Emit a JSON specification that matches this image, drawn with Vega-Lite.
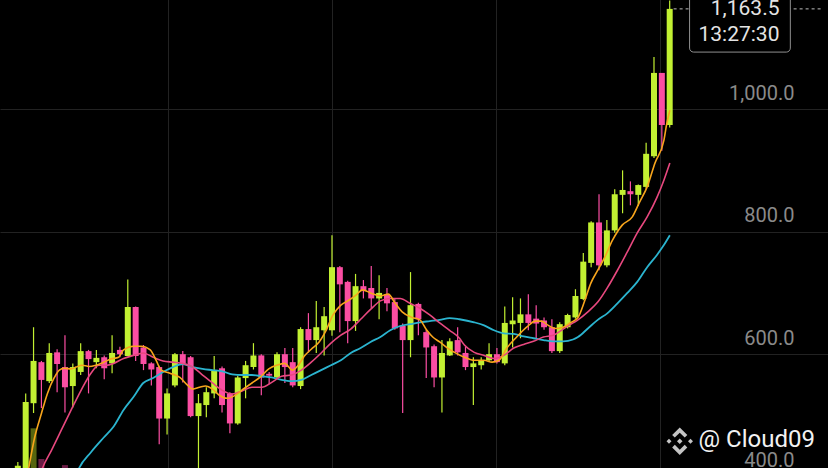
{
 "$schema": "https://vega.github.io/schema/vega-lite/v6.json",
 "width": 828, "height": 468, "autosize": "none", "padding": 0,
 "background": "#000000",
 "config": {"view": {"stroke": null}, "font": "Roboto"},
 "datasets": {
  "candles": [
   {"i":0,"o":400,"c":418,"h":424,"l":390},{"i":1,"o":405,"c":522,"h":536,"l":395},{"i":2,"o":520,"c":589,"h":644,"l":504},{"i":3,"o":587,"c":558,"h":589,"l":512},
   {"i":4,"o":556,"c":602,"h":618,"l":553},{"i":5,"o":603,"c":584,"h":608,"l":538},{"i":6,"o":579,"c":546,"h":631,"l":505},{"i":7,"o":548,"c":579,"h":585,"l":513},
   {"i":8,"o":571,"c":605,"h":618,"l":566},{"i":9,"o":605,"c":592,"h":607,"l":536},{"i":10,"o":587,"c":594,"h":607,"l":577},{"i":11,"o":595,"c":577,"h":598,"l":559},
   {"i":12,"o":585,"c":602,"h":631,"l":569},{"i":13,"o":607,"c":600,"h":612,"l":595},{"i":14,"o":597,"c":677,"h":722,"l":597},{"i":15,"o":677,"c":597,"h":678,"l":589},
   {"i":16,"o":611,"c":584,"h":615,"l":574},{"i":17,"o":585,"c":575,"h":587,"l":549},{"i":18,"o":579,"c":495,"h":581,"l":453},{"i":19,"o":495,"c":536,"h":544,"l":469},
   {"i":20,"o":549,"c":600,"h":602,"l":546},{"i":21,"o":600,"c":585,"h":605,"l":554},{"i":22,"o":595,"c":499,"h":597,"l":497},{"i":23,"o":499,"c":520,"h":535,"l":400},
   {"i":24,"o":517,"c":538,"h":546,"l":497},{"i":25,"o":536,"c":574,"h":597,"l":528},{"i":26,"o":577,"c":517,"h":580,"l":505},{"i":27,"o":536,"c":487,"h":538,"l":471},
   {"i":28,"o":487,"c":562,"h":565,"l":485},{"i":29,"o":561,"c":582,"h":589,"l":528},{"i":30,"o":579,"c":598,"h":618,"l":575},{"i":31,"o":598,"c":562,"h":600,"l":533},
   {"i":32,"o":568,"c":565,"h":571,"l":551},{"i":33,"o":562,"c":600,"h":603,"l":560},{"i":34,"o":600,"c":579,"h":610,"l":553},{"i":35,"o":587,"c":549,"h":610,"l":546},
   {"i":36,"o":548,"c":641,"h":644,"l":543},{"i":37,"o":641,"c":623,"h":667,"l":603},{"i":38,"o":623,"c":644,"h":687,"l":602},{"i":39,"o":639,"c":662,"h":677,"l":598},
   {"i":40,"o":639,"c":742,"h":794,"l":630},{"i":41,"o":742,"c":714,"h":744,"l":636},{"i":42,"o":718,"c":654,"h":720,"l":618},{"i":43,"o":654,"c":711,"h":731,"l":638},
   {"i":44,"o":711,"c":703,"h":721,"l":691},{"i":45,"o":708,"c":691,"h":744,"l":675},{"i":46,"o":691,"c":700,"h":729,"l":657},{"i":47,"o":698,"c":683,"h":708,"l":670},
   {"i":48,"o":685,"c":642,"h":690,"l":640},{"i":49,"o":646,"c":623,"h":650,"l":504},{"i":50,"o":623,"c":680,"h":734,"l":595},{"i":51,"o":682,"c":657,"h":684,"l":631},
   {"i":52,"o":636,"c":611,"h":640,"l":561},{"i":53,"o":613,"c":562,"h":616,"l":546},{"i":54,"o":562,"c":602,"h":623,"l":505},{"i":55,"o":598,"c":621,"h":626,"l":597},
   {"i":56,"o":623,"c":603,"h":644,"l":598},{"i":57,"o":602,"c":579,"h":613,"l":574},{"i":58,"o":579,"c":585,"h":595,"l":517},{"i":59,"o":582,"c":590,"h":595,"l":575},
   {"i":60,"o":590,"c":600,"h":618,"l":588},{"i":61,"o":600,"c":587,"h":610,"l":585},{"i":62,"o":585,"c":651,"h":678,"l":582},{"i":63,"o":649,"c":655,"h":693,"l":611},
   {"i":64,"o":651,"c":665,"h":691,"l":626},{"i":65,"o":665,"c":651,"h":698,"l":639},{"i":66,"o":658,"c":650,"h":680,"l":625},{"i":67,"o":655,"c":644,"h":660,"l":640},
   {"i":68,"o":644,"c":605,"h":657,"l":602},{"i":69,"o":605,"c":649,"h":652,"l":602},{"i":70,"o":644,"c":664,"h":666,"l":642},{"i":71,"o":660,"c":695,"h":706,"l":658},
   {"i":72,"o":690,"c":751,"h":765,"l":688},{"i":73,"o":749,"c":815,"h":817,"l":742},{"i":74,"o":815,"c":745,"h":861,"l":737},{"i":75,"o":745,"c":802,"h":819,"l":742},
   {"i":76,"o":802,"c":861,"h":869,"l":798},{"i":77,"o":860,"c":868,"h":900,"l":830},{"i":78,"o":866,"c":861,"h":882,"l":843},{"i":79,"o":860,"c":876,"h":877,"l":842},
   {"i":80,"o":873,"c":927,"h":945,"l":870},{"i":81,"o":923,"c":1059,"h":1085,"l":920},{"i":82,"o":1059,"c":974,"h":1059,"l":932},{"i":83,"o":974,"c":1163.5,"h":1177,"l":970}
  ],
  "vol": [
   {"i":2,"t":479,"up":true},{"i":3,"t":429,"up":false},{"i":6,"t":419,"up":false}
  ],
  "ma7": [
   {"i":0.88,"v":378},{"i":1.38,"v":414},{"i":2.14,"v":464},{"i":3.02,"v":504},{"i":3.77,"v":536},{"i":4.65,"v":562},{"i":5.28,"v":574},{"i":5.91,"v":577},
   {"i":6.79,"v":576},{"i":7.42,"v":579},{"i":8.18,"v":582},{"i":9.06,"v":580},{"i":9.94,"v":582},{"i":10.94,"v":587},{"i":11.82,"v":592},{"i":12.83,"v":595},
   {"i":13.46,"v":607},{"i":14.72,"v":613},{"i":15.72,"v":613},{"i":16.86,"v":607},{"i":17.61,"v":590},{"i":18.24,"v":574},{"i":19.37,"v":569},{"i":20.63,"v":562},
   {"i":21.64,"v":549},{"i":22.26,"v":543},{"i":23.14,"v":546},{"i":23.9,"v":548},{"i":24.78,"v":543},{"i":25.66,"v":533},{"i":26.67,"v":528},{"i":27.67,"v":533},
   {"i":28.81,"v":544},{"i":29.81,"v":553},{"i":30.82,"v":562},{"i":31.95,"v":576},{"i":32.96,"v":582},{"i":33.96,"v":585},{"i":34.97,"v":574},{"i":35.72,"v":582},
   {"i":36.48,"v":597},{"i":37.36,"v":608},{"i":38.36,"v":620},{"i":39.25,"v":639},{"i":40.13,"v":664},{"i":41.13,"v":680},{"i":42.14,"v":688},{"i":43.02,"v":696},
   {"i":43.9,"v":705},{"i":44.91,"v":700},{"i":46.16,"v":695},{"i":47.17,"v":698},{"i":48.05,"v":683},{"i":48.93,"v":669},{"i":50.19,"v":660},{"i":51.19,"v":656},
   {"i":52.08,"v":639},{"i":52.83,"v":628},{"i":53.71,"v":620},{"i":54.72,"v":610},{"i":55.6,"v":603},{"i":56.86,"v":595},{"i":58.11,"v":590},{"i":59.37,"v":590},
   {"i":60.38,"v":587},{"i":61.26,"v":590},{"i":62.26,"v":610},{"i":63.52,"v":628},{"i":64.78,"v":644},{"i":65.91,"v":654},{"i":66.67,"v":654},{"i":67.55,"v":647},
   {"i":68.43,"v":642},{"i":69.43,"v":644},{"i":70.31,"v":651},{"i":71.32,"v":660},{"i":72.2,"v":688},{"i":72.96,"v":716},{"i":73.84,"v":737},{"i":74.72,"v":758},
   {"i":75.72,"v":786},{"i":76.98,"v":811},{"i":78.24,"v":824},{"i":79.12,"v":847},{"i":80.13,"v":873},{"i":81.13,"v":912},{"i":82.26,"v":949},{"i":82.64,"v":977},{"i":83.02,"v":998}
  ],
  "ma25": [
   {"i":2.64,"v":394},{"i":3.14,"v":414},{"i":4.28,"v":443},{"i":5.53,"v":476},{"i":6.79,"v":509},{"i":8.05,"v":541},{"i":9.31,"v":569},{"i":10.31,"v":582},
   {"i":11.32,"v":582},{"i":12.2,"v":585},{"i":13.46,"v":593},{"i":14.72,"v":598},{"i":15.97,"v":602},{"i":17.23,"v":595},{"i":18.49,"v":589},{"i":19.75,"v":587},
   {"i":21.01,"v":585},{"i":22.26,"v":579},{"i":23.52,"v":566},{"i":24.78,"v":553},{"i":26.04,"v":541},{"i":27.3,"v":535},{"i":28.55,"v":540},{"i":29.81,"v":546},
   {"i":31.07,"v":546},{"i":32.33,"v":554},{"i":33.58,"v":564},{"i":34.84,"v":566},{"i":36.1,"v":574},{"i":37.36,"v":587},{"i":38.62,"v":602},{"i":39.87,"v":618},
   {"i":41.13,"v":631},{"i":42.39,"v":641},{"i":43.65,"v":657},{"i":44.91,"v":673},{"i":46.16,"v":687},{"i":47.42,"v":691},{"i":48.68,"v":691},{"i":49.94,"v":683},
   {"i":51.19,"v":675},{"i":52.45,"v":664},{"i":53.71,"v":651},{"i":54.97,"v":639},{"i":56.23,"v":626},{"i":56.86,"v":615},{"i":58.11,"v":603},{"i":59.37,"v":598},
   {"i":60.63,"v":593},{"i":61.89,"v":598},{"i":63.14,"v":610},{"i":64.4,"v":616},{"i":65.66,"v":621},{"i":66.92,"v":628},{"i":68.18,"v":631},{"i":69.43,"v":641},
   {"i":70.69,"v":651},{"i":71.32,"v":656},{"i":72.58,"v":669},{"i":73.84,"v":685},{"i":75.09,"v":709},{"i":76.35,"v":737},{"i":77.61,"v":767},{"i":78.87,"v":798},
   {"i":80.13,"v":824},{"i":81.38,"v":856},{"i":82.26,"v":884},{"i":83.02,"v":912}
  ],
  "ma99": [
   {"i":7.17,"v":394},{"i":7.8,"v":414},{"i":9.31,"v":440},{"i":10.94,"v":464},{"i":12.2,"v":482},{"i":13.46,"v":509},{"i":14.72,"v":530},{"i":15.97,"v":553},
   {"i":17.23,"v":561},{"i":18.49,"v":571},{"i":19.75,"v":579},{"i":21.01,"v":584},{"i":22.26,"v":579},{"i":23.52,"v":576},{"i":24.78,"v":574},{"i":26.04,"v":572},
   {"i":27.3,"v":567},{"i":28.55,"v":566},{"i":29.81,"v":566},{"i":31.07,"v":564},{"i":32.33,"v":562},{"i":33.58,"v":558},{"i":34.84,"v":556},{"i":36.1,"v":558},
   {"i":37.36,"v":566},{"i":38.62,"v":574},{"i":39.87,"v":582},{"i":41.13,"v":590},{"i":42.39,"v":602},{"i":43.65,"v":610},{"i":44.91,"v":620},{"i":46.16,"v":628},
   {"i":47.42,"v":639},{"i":48.68,"v":646},{"i":49.94,"v":649},{"i":51.19,"v":652},{"i":52.45,"v":654},{"i":53.71,"v":656},{"i":54.97,"v":659},{"i":56.23,"v":657},
   {"i":58.11,"v":652},{"i":59.37,"v":647},{"i":60.63,"v":639},{"i":61.89,"v":634},{"i":63.14,"v":633},{"i":64.4,"v":629},{"i":65.66,"v":626},{"i":66.92,"v":623},
   {"i":68.18,"v":621},{"i":69.43,"v":621},{"i":70.69,"v":624},{"i":71.32,"v":628},{"i":72.58,"v":642},{"i":73.84,"v":656},{"i":75.09,"v":667},{"i":76.35,"v":683},
   {"i":77.61,"v":700},{"i":78.87,"v":718},{"i":80.13,"v":742},{"i":81.38,"v":762},{"i":82.26,"v":778},{"i":83.02,"v":794}
  ],
  "last": [{"p":1163.5,"t":"13:27:30"}],
  "mark": [{"w":"@ Cloud09"}]
 },
 "layer": [
  {
   "data": {"name": "vol"},
   "mark": {"type": "bar", "size": 6},
   "encoding": {
    "x": {"field": "i", "type": "quantitative", "title": null,
     "scale": {"domain": [-1.635, 102.52], "nice": false, "zero": false},
     "axis": {"values": [19.12, 40, 60.88, 81.76], "labels": false, "ticks": false, "domain": false, "grid": true, "gridColor": "#222222", "gridWidth": 1, "title": null}},
    "y": {"field": "t", "type": "quantitative", "title": null,
     "scale": {"domain": [380, 1178], "range": [489, 0], "nice": false, "zero": false},
     "axis": {"orient": "right", "values": [400, 600, 800, 1000], "format": ",.1f", "grid": true, "gridColor": "#222222", "gridWidth": 1, "ticks": false, "tickSize": 0, "domain": false, "labelAlign": "right", "labelBaseline": "middle", "labelPadding": -34, "labelOffset": -16, "labelColor": "#8a8a8a", "labelFontSize": 20, "labelFont": "Roboto", "labelBound": false, "labelFlush": false, "labelOverlap": false, "title": null}},
    "y2": {"datum": 380},
    "color": {"condition": {"test": "datum.up", "value": "#56650f"}, "value": "#6a1c45"}
   }
  },
  {
   "data": {"name": "candles"},
   "mark": {"type": "rule", "strokeWidth": 1.2},
   "encoding": {
    "x": {"field": "i", "type": "quantitative", "title": null},
    "y": {"field": "l", "type": "quantitative", "title": null},
    "y2": {"field": "h"},
    "color": {"condition": {"test": "datum.c >= datum.o", "value": "#c2f032"}, "value": "#fb4ea3"}
   }
  },
  {
   "data": {"name": "candles"},
   "mark": {"type": "bar", "size": 6},
   "encoding": {
    "x": {"field": "i", "type": "quantitative", "title": null},
    "y": {"field": "o", "type": "quantitative", "title": null},
    "y2": {"field": "c"},
    "color": {"condition": {"test": "datum.c >= datum.o", "value": "#c2f032"}, "value": "#fb4ea3"}
   }
  },
  {
   "data": {"name": "ma99"},
   "mark": {"type": "line", "color": "#2bb4cf", "strokeWidth": 1.8, "interpolate": "monotone"},
   "encoding": {"x": {"field": "i", "type": "quantitative", "title": null}, "y": {"field": "v", "type": "quantitative", "title": null}}
  },
  {
   "data": {"name": "ma25"},
   "mark": {"type": "line", "color": "#e8487f", "strokeWidth": 1.6, "interpolate": "monotone"},
   "encoding": {"x": {"field": "i", "type": "quantitative", "title": null}, "y": {"field": "v", "type": "quantitative", "title": null}}
  },
  {
   "data": {"name": "ma7"},
   "mark": {"type": "line", "color": "#f8a51c", "strokeWidth": 1.6, "interpolate": "monotone"},
   "encoding": {"x": {"field": "i", "type": "quantitative", "title": null}, "y": {"field": "v", "type": "quantitative", "title": null}}
  },
  {
   "data": {"name": "last"},
   "mark": {"type": "rule", "color": "#bdbdbd", "strokeWidth": 1, "strokeDash": [3, 3]},
   "encoding": {"x": {"datum": 83.5}, "x2": {"datum": 102.52}, "y": {"field": "p", "type": "quantitative", "title": null}}
  },
  {
   "data": {"name": "last"},
   "mark": {"type": "rect", "fill": "#000000", "stroke": "#8f8f8f", "strokeWidth": 1, "cornerRadius": 4},
   "encoding": {"x": {"datum": 85.53}, "x2": {"datum": 98.36}, "y": {"datum": 1093}, "y2": {"datum": 1210}}
  },
  {
   "data": {"name": "last"},
   "mark": {"type": "text", "align": "right", "baseline": "middle", "fontSize": 21, "font": "Roboto", "color": "#e4e4e4"},
   "encoding": {"x": {"datum": 96.98}, "y": {"field": "p", "type": "quantitative", "title": null}, "text": {"field": "p", "type": "quantitative", "format": ",.1f"}}
  },
  {
   "data": {"name": "last"},
   "mark": {"type": "text", "align": "right", "baseline": "middle", "fontSize": 21, "font": "Roboto", "color": "#e4e4e4", "dy": 26},
   "encoding": {"x": {"datum": 96.98}, "y": {"field": "p", "type": "quantitative", "title": null}, "text": {"field": "t"}}
  },
  {
   "data": {"name": "mark"},
   "mark": {"type": "point", "filled": true, "color": "#c4c4c4", "opacity": 1, "size": 760,
     "shape": "M0,-1L0.55,-0.45L0.36,-0.26L0,-0.62L-0.36,-0.26L-0.55,-0.45Z M0,1L0.55,0.45L0.36,0.26L0,0.62L-0.36,0.26L-0.55,0.45Z M0,-0.2L0.2,0L0,0.2L-0.2,0Z M-0.78,-0.18L-0.6,0L-0.78,0.18L-0.96,0Z M0.78,-0.18L0.96,0L0.78,0.18L0.6,0Z"},
   "encoding": {"x": {"datum": 84.28}, "y": {"datum": 458}}
  },
  {
   "data": {"name": "mark"},
   "mark": {"type": "text", "align": "left", "baseline": "middle", "fontSize": 24, "font": "Roboto", "color": "#f2f2f2"},
   "encoding": {"x": {"datum": 86.67}, "y": {"datum": 460}, "text": {"field": "w"}}
  }
 ]
}
